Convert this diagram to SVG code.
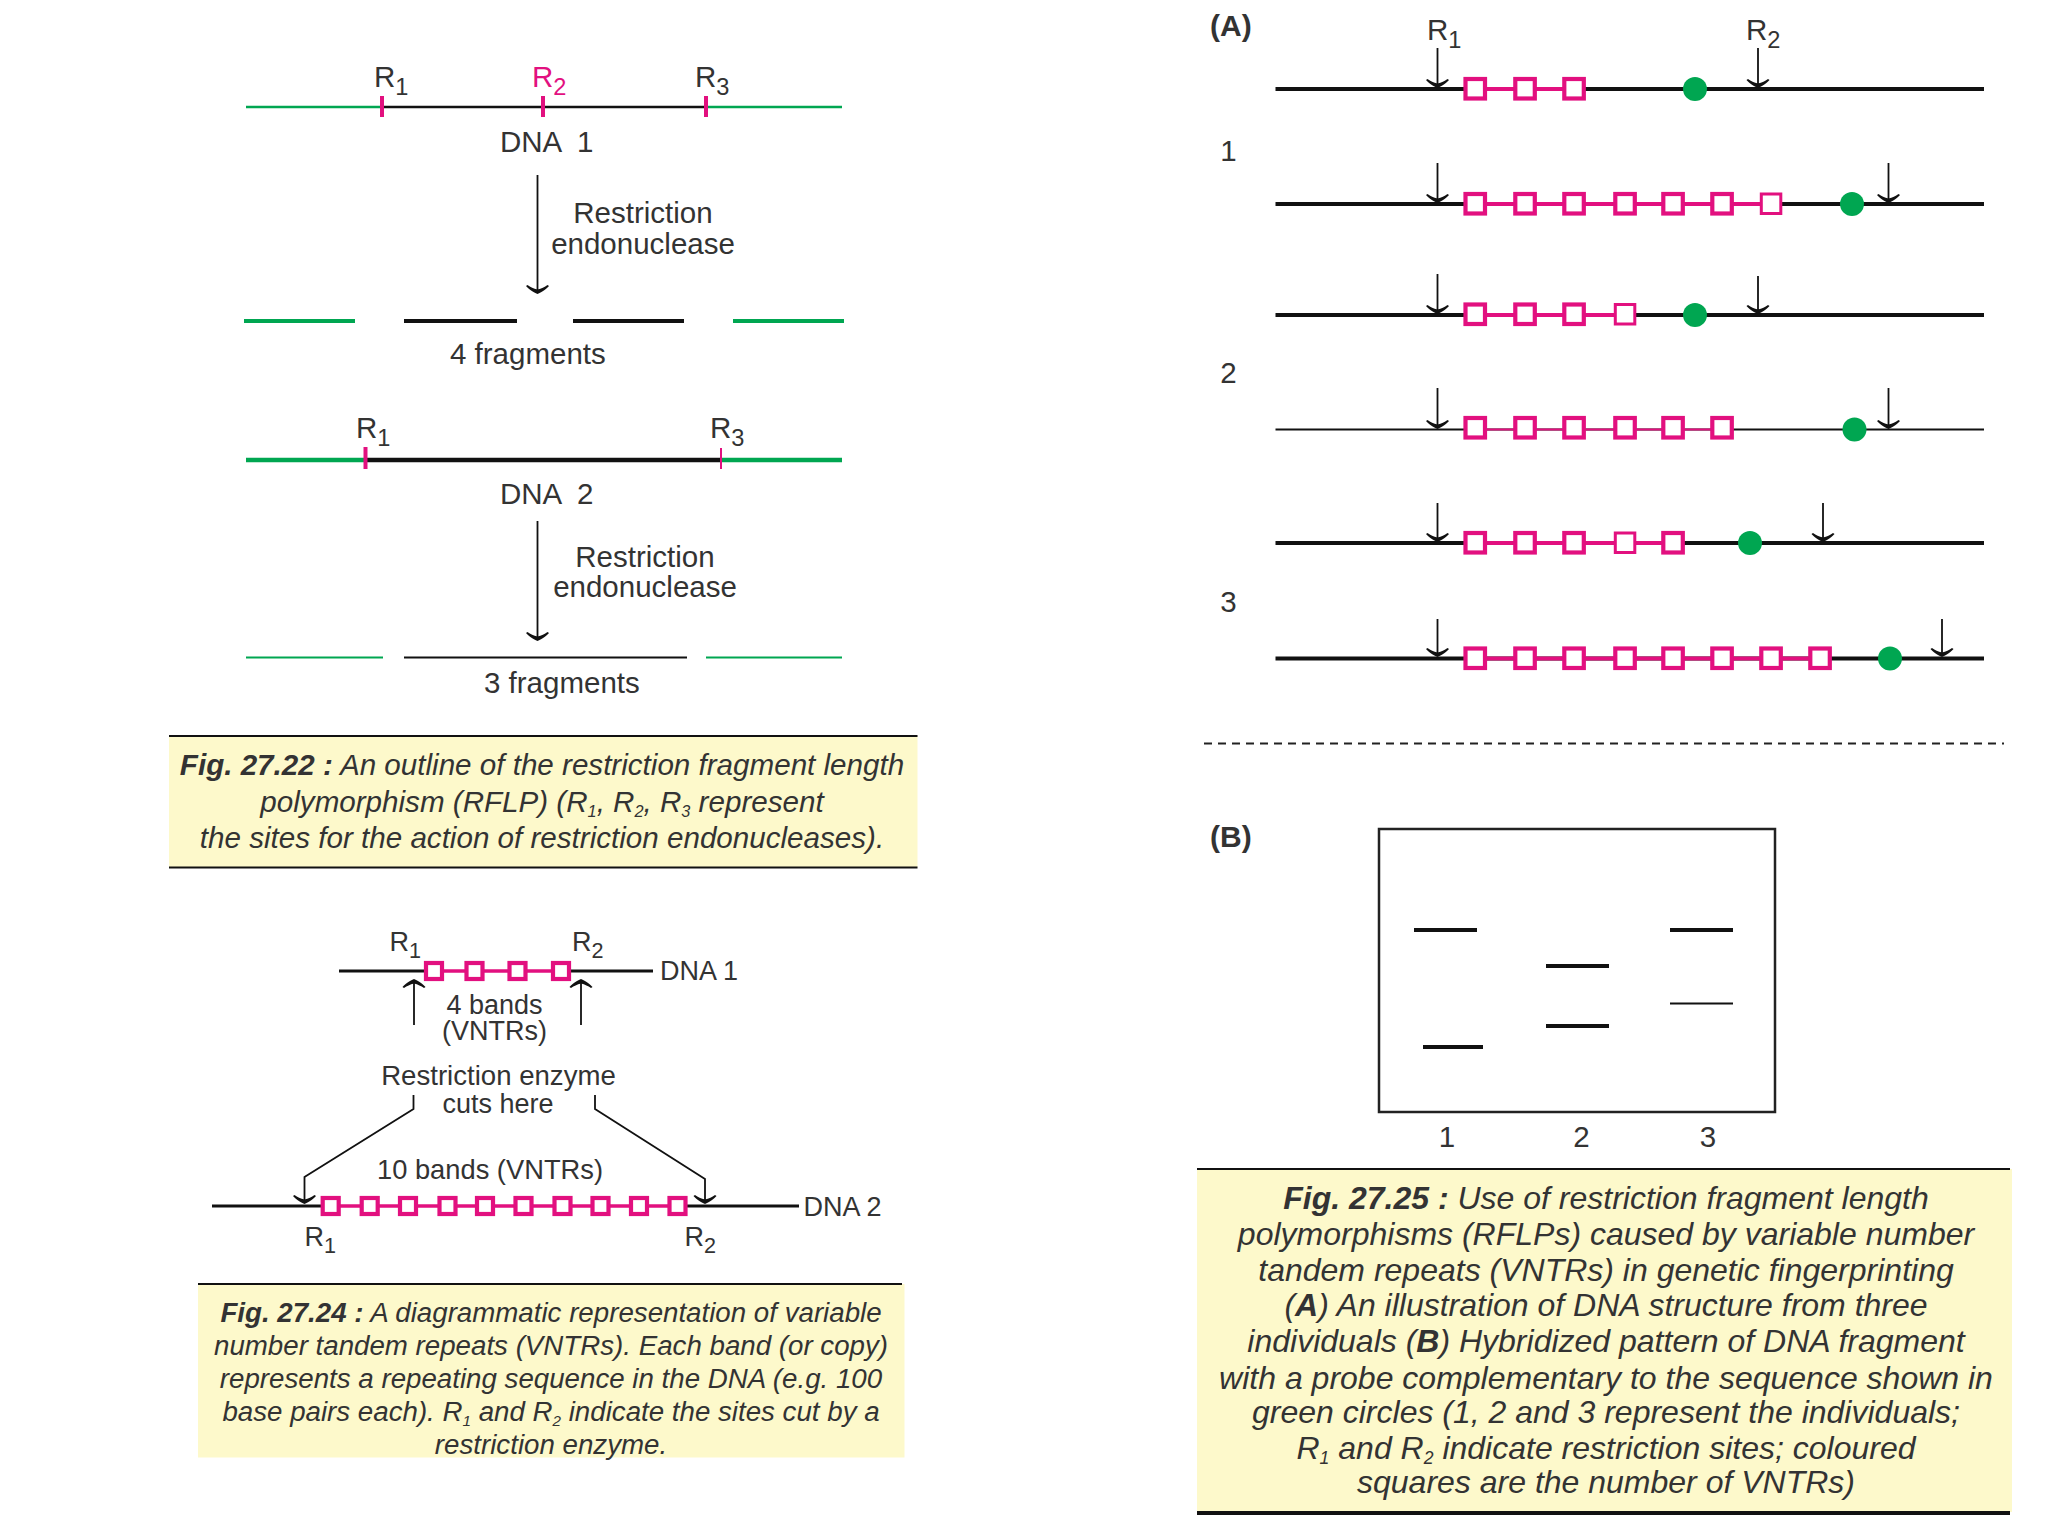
<svg xmlns="http://www.w3.org/2000/svg" width="2048" height="1536" viewBox="0 0 2048 1536">
<style>
text{font-family:"Liberation Sans",Arial,sans-serif;fill:#333}
.m{text-anchor:middle}
.l{font-size:29.5px}
.s{font-size:27px}
.c{font-size:29.6px;font-style:italic;text-anchor:middle}
.c2{font-size:27.7px;font-style:italic;text-anchor:middle}
.c3{font-size:32px;font-style:italic;text-anchor:middle}
.b{font-weight:bold}
.sb{font-size:80%}
.cs{font-size:55%}
.k{stroke:#111;fill:none}
.g{stroke:#00a651;fill:none}
.p{stroke:#e2107f;fill:none}
.sq{stroke:#e2107f;stroke-width:4.200px;fill:#fff}
.gc{fill:#00a651}
.cap{fill:#fdf9cb}
.ar{stroke:#111;stroke-width:1.800px;fill:none;marker-end:url(#h)}
</style>
<defs>
<marker id="h" markerUnits="userSpaceOnUse" markerWidth="28" markerHeight="28" viewBox="-14 -14 28 28" refX="0" refY="0" orient="auto">
<path d="M1,0 C-2,-6 -4,-9 -7,-11.500 L-8,-10 C-6,-7 -4.500,-4 -3.500,0 C-4.500,4 -6,7 -8,10 L-7,11.500 C-4,9 -2,6 1,0Z" fill="#111"/>
</marker>
</defs>
<rect width="2048" height="1536" fill="#fff"/>

<g id="fig22-dna1">
<path class="g" stroke-width="2.500" d="M246 107H382M706 107H842"/>
<path class="k" stroke-width="2.500" d="M382 107H706"/>
<path class="p" stroke-width="4" d="M382 96V117M543 96V117M706 96V117"/>
<text class="l" x="374" y="87">R<tspan class="sb" dy="8">1</tspan></text>
<text class="l" x="532" y="87" style="fill:#e2107f">R<tspan class="sb" dy="8" style="fill:#e2107f">2</tspan></text>
<text class="l" x="695" y="87">R<tspan class="sb" dy="8">3</tspan></text>
<text class="l" x="500" y="151.500" xml:space="preserve">DNA  1</text>
<text class="l m" x="643" y="223">Restriction</text>
<text class="l m" x="643" y="253.500">endonuclease</text>
</g>
<g id="fig22-fragments1">
<path class="g" stroke-width="4" d="M244 321H355M733 321H844"/>
<path class="k" stroke-width="4" d="M404 321H517M573 321H684"/>
<text class="l" x="450" y="364">4 fragments</text>
</g>
<g id="fig22-dna2">
<path class="g" stroke-width="4.500" d="M246 460H365M720 460H842"/>
<path class="k" stroke-width="4.500" d="M365 460H720"/>
<path class="p" stroke-width="4" d="M365.500 447V469"/>
<path class="p" stroke-width="2" d="M721 448V469"/>
<text class="l" x="356" y="438">R<tspan class="sb" dy="8">1</tspan></text>
<text class="l" x="710" y="438">R<tspan class="sb" dy="8">3</tspan></text>
<text class="l" x="500" y="504" xml:space="preserve">DNA  2</text>
<text class="l m" x="645" y="567">Restriction</text>
<text class="l m" x="645" y="597">endonuclease</text>
</g>
<g id="fig22-fragments2">
<path class="g" stroke-width="2" d="M246 657.500H383M706 657.500H842"/>
<path class="k" stroke-width="2" d="M404 657.500H687"/>
<text class="l" x="484" y="693">3 fragments</text>
</g>
<g id="fig22-caption">
<rect class="cap" x="169" y="736" width="748.500" height="131.500"/>
<path class="k" stroke-width="2" d="M169 736H917.500M169 867.500H917.500"/>
<text class="c" x="542" y="775"><tspan class="b">Fig. 27.22 :</tspan> An outline of the restriction fragment length</text>
<text class="c" x="542" y="812">polymorphism (RFLP) (R<tspan class="cs" dy="5">1</tspan><tspan dy="-5">, R</tspan><tspan class="cs" dy="5">2</tspan><tspan dy="-5">, R</tspan><tspan class="cs" dy="5">3</tspan><tspan dy="-5"> represent</tspan></text>
<text class="c" x="542" y="848">the sites for the action of restriction endonucleases).</text>
</g>

<g id="fig24-dna1">
<path class="k" stroke-width="3" d="M339 971H424M571 971H653"/>
<path class="p" stroke-width="3.500" d="M424 971H571"/>
<rect class="sq" x="426" y="963" width="16" height="16"/>
<rect class="sq" x="466.500" y="963" width="16" height="16"/>
<rect class="sq" x="509.500" y="963" width="16" height="16"/>
<rect class="sq" x="553" y="963" width="16" height="16"/>
<text class="s" x="389.500" y="951">R<tspan class="sb" dy="7">1</tspan></text>
<text class="s" x="572" y="951">R<tspan class="sb" dy="7">2</tspan></text>
<text class="s" x="660" y="980">DNA 1</text>
<text class="s m" x="494.500" y="1014">4 bands</text>
<text class="s m" x="494.500" y="1040">(VNTRs)</text>
</g>
<g id="fig24-note">
<text class="m" font-size="27.600" x="498.500" y="1085">Restriction enzyme</text>
<text class="s m" x="498" y="1113">cuts here</text>
</g>
<g id="fig24-dna2">
<path class="k" stroke-width="3" d="M212 1206H321M687 1206H799"/>
<path class="p" stroke-width="3.500" d="M321 1206H687"/>
<rect class="sq" x="322.700" y="1198" width="16" height="16"/>
<rect class="sq" x="361.700" y="1198" width="16" height="16"/>
<rect class="sq" x="400" y="1198" width="16" height="16"/>
<rect class="sq" x="439.500" y="1198" width="16" height="16"/>
<rect class="sq" x="477" y="1198" width="16" height="16"/>
<rect class="sq" x="515.500" y="1198" width="16" height="16"/>
<rect class="sq" x="554.500" y="1198" width="16" height="16"/>
<rect class="sq" x="592.500" y="1198" width="16" height="16"/>
<rect class="sq" x="631" y="1198" width="16" height="16"/>
<rect class="sq" x="669.500" y="1198" width="16" height="16"/>
<text class="m" font-size="27.300" x="490" y="1179">10 bands (VNTRs)</text>
<text class="s" x="304.500" y="1246">R<tspan class="sb" dy="7">1</tspan></text>
<text class="s" x="684.500" y="1246">R<tspan class="sb" dy="7">2</tspan></text>
<text class="s" x="803.500" y="1216">DNA 2</text>
</g>
<g id="fig24-caption">
<rect class="cap" x="198" y="1284" width="706.500" height="173.500"/>
<path class="k" stroke-width="2" d="M198 1284H902"/>
<text class="c2" x="551" y="1321.500"><tspan class="b">Fig. 27.24 :</tspan> A diagrammatic representation of variable</text>
<text class="c2" x="551" y="1355">number tandem repeats (VNTRs). Each band (or copy)</text>
<text class="c2" x="551" y="1388">represents a repeating sequence in the DNA (e.g. 100</text>
<text class="c2" x="551" y="1421">base pairs each). R<tspan class="cs" dy="5">1</tspan><tspan dy="-5"> and R</tspan><tspan class="cs" dy="5">2</tspan><tspan dy="-5"> indicate the sites cut by a</tspan></text>
<text class="c2" x="551" y="1453.500">restriction enzyme.</text>
</g>

<g id="panelA-labels">
<text class="b" font-size="30" x="1210" y="35.500">(A)</text>
<text class="l" x="1427" y="40">R<tspan class="sb" dy="8">1</tspan></text>
<text class="l" x="1746" y="40">R<tspan class="sb" dy="8">2</tspan></text>
<text class="l m" x="1228.500" y="160.500">1</text>
<text class="l m" x="1228.500" y="383">2</text>
<text class="l m" x="1228.500" y="612">3</text>
</g>
<g id="row0">
<path class="k" stroke-width="4" d="M1275.500 89H1984"/>
<path class="p" stroke-width="4" d="M1470 89H1580"/>
<rect class="sq" x="1465.500" y="79" width="19.500" height="19.500"/>
<rect class="sq" x="1515.300" y="79" width="19.500" height="19.500"/>
<rect class="sq" x="1564.300" y="79" width="19.500" height="19.500"/>
<circle class="gc" cx="1695" cy="89" r="12"/>
</g>
<g id="row1">
<path class="k" stroke-width="4" d="M1275.500 204H1984"/>
<path class="p" stroke-width="4" d="M1470 204H1776"/>
<rect class="sq" x="1465.500" y="194" width="19.500" height="19.500"/>
<rect class="sq" x="1515.300" y="194" width="19.500" height="19.500"/>
<rect class="sq" x="1564.300" y="194" width="19.500" height="19.500"/>
<rect class="sq" x="1615.300" y="194" width="19.500" height="19.500"/>
<rect class="sq" x="1663.300" y="194" width="19.500" height="19.500"/>
<rect class="sq" x="1712.300" y="194" width="19.500" height="19.500"/>
<rect class="sq" x="1761.300" y="194" width="19.500" height="19.500" style="stroke-width:3px"/>
<circle class="gc" cx="1852" cy="204" r="12"/>
</g>
<g id="row2">
<path class="k" stroke-width="4" d="M1275.500 315H1984"/>
<path class="p" stroke-width="4" d="M1470 315H1630"/>
<rect class="sq" x="1465.500" y="304.500" width="19.500" height="19.500"/>
<rect class="sq" x="1515.300" y="304.500" width="19.500" height="19.500"/>
<rect class="sq" x="1564.300" y="304.500" width="19.500" height="19.500"/>
<rect class="sq" x="1615.300" y="304.500" width="19.500" height="19.500" style="stroke-width:3px"/>
<circle class="gc" cx="1695" cy="315" r="12"/>
</g>
<g id="row3">
<path class="k" stroke-width="1.800" d="M1275.500 429.500H1984"/>
<path class="p" stroke-width="2" d="M1470 429.500H1725"/>
<rect class="sq" x="1465.500" y="418" width="19.500" height="19.500"/>
<rect class="sq" x="1515.300" y="418" width="19.500" height="19.500"/>
<rect class="sq" x="1564.300" y="418" width="19.500" height="19.500"/>
<rect class="sq" x="1615.300" y="418" width="19.500" height="19.500"/>
<rect class="sq" x="1663.300" y="418" width="19.500" height="19.500"/>
<rect class="sq" x="1712.300" y="418" width="19.500" height="19.500"/>
<circle class="gc" cx="1854.500" cy="429.500" r="12"/>
</g>
<g id="row4">
<path class="k" stroke-width="4" d="M1275.500 543H1984"/>
<path class="p" stroke-width="4" d="M1470 543H1675"/>
<rect class="sq" x="1465.500" y="533" width="19.500" height="19.500"/>
<rect class="sq" x="1515.300" y="533" width="19.500" height="19.500"/>
<rect class="sq" x="1564.300" y="533" width="19.500" height="19.500"/>
<rect class="sq" x="1615.300" y="533" width="19.500" height="19.500" style="stroke-width:3px"/>
<rect class="sq" x="1663.300" y="533" width="19.500" height="19.500"/>
<circle class="gc" cx="1750" cy="543" r="12"/>
</g>
<g id="row5">
<path class="k" stroke-width="4" d="M1275.500 658.500H1984"/>
<path class="p" stroke-width="4" d="M1470 658.500H1825"/>
<rect class="sq" x="1465.500" y="648.500" width="19.500" height="19.500"/>
<rect class="sq" x="1515.300" y="648.500" width="19.500" height="19.500"/>
<rect class="sq" x="1564.300" y="648.500" width="19.500" height="19.500"/>
<rect class="sq" x="1615.300" y="648.500" width="19.500" height="19.500"/>
<rect class="sq" x="1663.300" y="648.500" width="19.500" height="19.500"/>
<rect class="sq" x="1712.300" y="648.500" width="19.500" height="19.500"/>
<rect class="sq" x="1761.300" y="648.500" width="19.500" height="19.500"/>
<rect class="sq" x="1810.300" y="648.500" width="19.500" height="19.500"/>
<circle class="gc" cx="1890" cy="658.500" r="12"/>
</g>
<path id="divider" d="M1204 743.500H2004" stroke="#222" stroke-width="1.800" stroke-dasharray="8 6" fill="none"/>

<g id="panelB">
<text class="b" font-size="30" x="1210" y="847">(B)</text>
<rect x="1379" y="829" width="396" height="283" fill="#fff" stroke="#222" stroke-width="2.500"/>
<path class="k" stroke-width="4" d="M1414 930H1477M1423 1047H1483M1546 966H1609M1546 1026H1609M1670 930H1733"/>
<path class="k" stroke-width="1.800" d="M1670 1003.500H1733"/>
<text class="l m" x="1447" y="1147">1</text>
<text class="l m" x="1581.500" y="1147">2</text>
<text class="l m" x="1708" y="1147">3</text>
</g>
<g id="fig25-caption">
<rect class="cap" x="1197" y="1169" width="815" height="343"/>
<path class="k" stroke-width="2" d="M1197 1169H2010"/>
<path class="k" stroke-width="4" d="M1197 1513H2010"/>
<text class="c3" x="1606" y="1208.500"><tspan class="b">Fig. 27.25 :</tspan> Use of restriction fragment length</text>
<text class="c3" x="1606" y="1245">polymorphisms (RFLPs) caused by variable number</text>
<text class="c3" x="1606" y="1281">tandem repeats (VNTRs) in genetic fingerprinting</text>
<text class="c3" x="1606" y="1316">(<tspan class="b">A</tspan>) An illustration of DNA structure from three</text>
<text class="c3" x="1606" y="1352">individuals (<tspan class="b">B</tspan>) Hybridized pattern of DNA fragment</text>
<text class="c3" x="1606" y="1389">with a probe complementary to the sequence shown in</text>
<text class="c3" x="1606" y="1423">green circles (1, 2 and 3 represent the individuals;</text>
<text class="c3" x="1606" y="1458.500">R<tspan class="cs" dy="5">1</tspan><tspan dy="-5"> and R</tspan><tspan class="cs" dy="5">2</tspan><tspan dy="-5"> indicate restriction sites; coloured</tspan></text>
<text class="c3" x="1606" y="1493">squares are the number of VNTRs)</text>
</g>

<g id="connectors">
<path class="ar" d="M537.500 175V293"/>
<path class="ar" d="M537.500 521V640"/>
<path class="ar" d="M414 1025V980"/>
<path class="ar" d="M581 1025V980"/>
<path class="ar" d="M413.500 1095V1109L304.500 1177V1203"/>
<path class="ar" d="M595 1095V1109L705 1179V1203"/>
<path class="ar" d="M1437.500 48V87"/>
<path class="ar" d="M1758 48V87"/>
<path class="ar" d="M1437.500 163V202"/>
<path class="ar" d="M1888.500 163V202"/>
<path class="ar" d="M1437.500 274V313"/>
<path class="ar" d="M1758 276V313"/>
<path class="ar" d="M1437.500 388V428"/>
<path class="ar" d="M1888.500 388V428"/>
<path class="ar" d="M1437.500 503V541"/>
<path class="ar" d="M1823 503V541"/>
<path class="ar" d="M1437.500 619V656"/>
<path class="ar" d="M1942 619V656"/>
</g>
</svg>
